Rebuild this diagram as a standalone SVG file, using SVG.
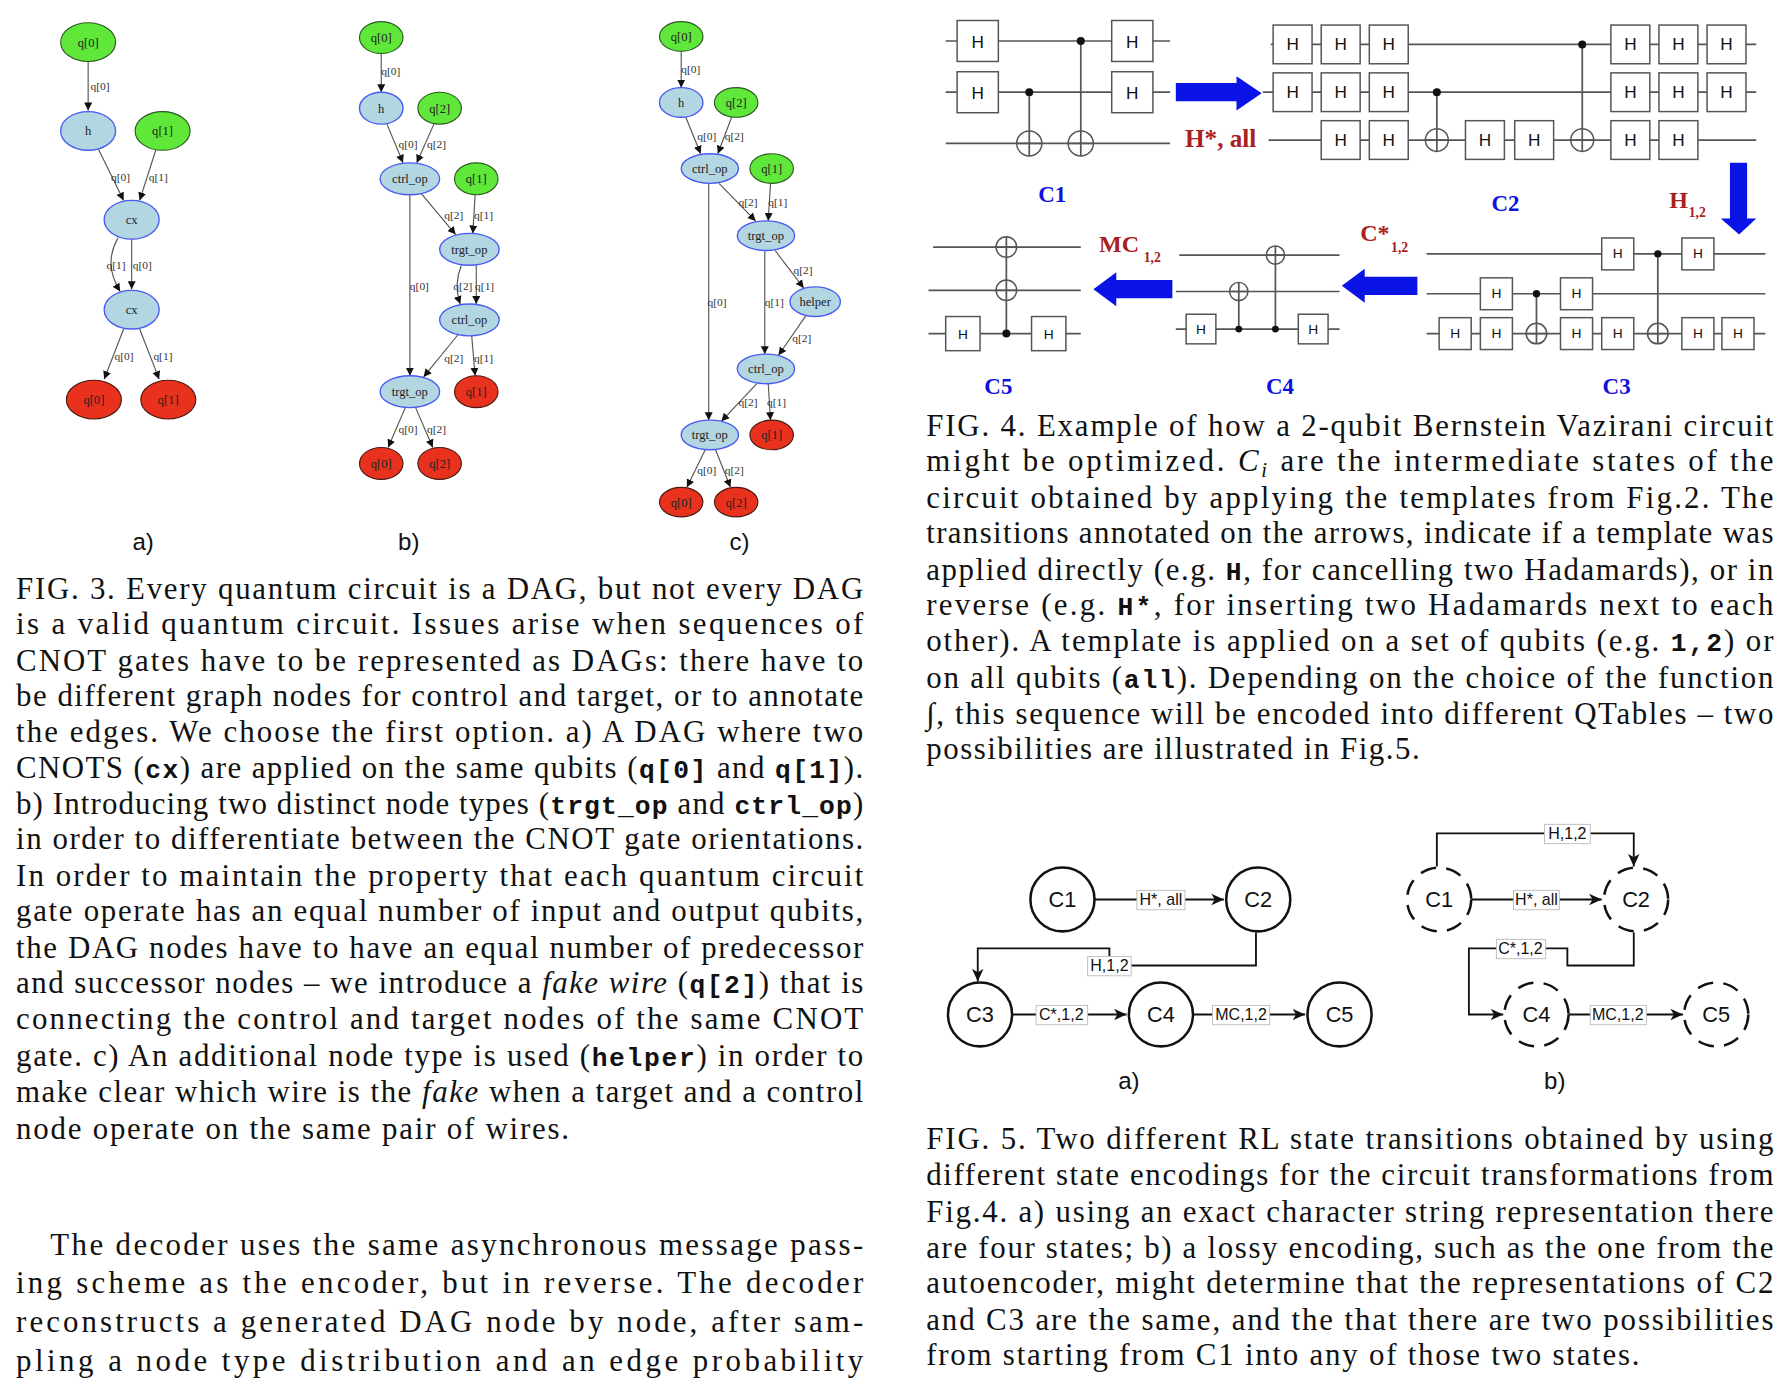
<svg xmlns="http://www.w3.org/2000/svg" width="1786" height="1380" viewBox="0 0 1786 1380">
<defs>
<style>
.g{fill:#5fe83a;stroke:#2a5a20;stroke-width:1}
.b{fill:#b3d6e3;stroke:#4a5cf0;stroke-width:1.2}
.r{fill:#e8321e;stroke:#4a1a10;stroke-width:1}
.nl{font-family:"Liberation Serif",serif;font-size:11px;text-anchor:middle;fill:#222}
.el{font-family:"Liberation Serif",serif;font-size:10px;fill:#333}
.e{stroke:#555;stroke-width:1;fill:none;marker-end:url(#ah)}
.cap{font-family:"Liberation Serif",serif;font-size:27px;fill:#111}
.mono{font-family:"Liberation Mono",monospace;font-weight:bold;font-size:23px}
.w{stroke:#555;stroke-width:1.5;fill:none}
.hb{fill:#fff;stroke:#555;stroke-width:1.3}
.ht{font-family:"Liberation Sans",sans-serif;font-size:15px;text-anchor:middle;fill:#111}
.ht2{font-family:"Liberation Sans",sans-serif;font-size:12px;text-anchor:middle;fill:#111}
.tg{fill:none;stroke:#555;stroke-width:1.3}
.cl{font-family:"Liberation Serif",serif;font-weight:bold;font-size:20px;fill:#1010e0;text-anchor:middle}
.rl{font-family:"Liberation Serif",serif;font-weight:bold;fill:#a82020}
.ar{fill:#0a14e6}
.st{fill:#fff;stroke:#111;stroke-width:2.2}
.sd{fill:#fff;stroke:#111;stroke-width:2.2;stroke-dasharray:14 9}
.sl{font-family:"Liberation Sans",sans-serif;font-size:19px;text-anchor:middle;fill:#111}
.lb{fill:#fff;stroke:#bbb;stroke-width:0.8}
.lt{font-family:"Liberation Sans",sans-serif;font-size:14px;text-anchor:middle;fill:#111}
.sa{stroke:#111;stroke-width:1.6;fill:none;marker-end:url(#ah2)}
.sub{font-family:"Liberation Sans",sans-serif;font-size:21px;text-anchor:middle;fill:#111}
</style>
<marker id="ah" markerWidth="8" markerHeight="8" refX="7" refY="4" orient="auto" markerUnits="userSpaceOnUse"><path d="M0,0.5 L7,4 L0,7.5z" fill="#111"/></marker>
<marker id="ah2" markerWidth="12" markerHeight="12" refX="11" refY="6" orient="auto" markerUnits="userSpaceOnUse"><path d="M0,1 L11,6 L0,11 L3,6z" fill="#111"/></marker>
</defs>
<g transform="scale(1.1449 1.1386)">
<g id="connectors">
<line class="e" x1="77" y1="54" x2="77" y2="97"/>
<line class="e" x1="86" y1="131" x2="108" y2="176"/>
<line class="e" x1="136" y1="132" x2="122" y2="176"/>
<path class="e" d="M103,209 Q90,232 105,256"/>
<line class="e" x1="115" y1="210" x2="115" y2="254"/>
<line class="e" x1="108" y1="289" x2="91" y2="333"/>
<line class="e" x1="122" y1="289" x2="139" y2="333"/>
<line class="e" x1="333" y1="47" x2="333" y2="81"/>
<line class="e" x1="338" y1="109" x2="352" y2="143"/>
<line class="e" x1="379" y1="109" x2="364" y2="143"/>
<line class="e" x1="368" y1="170" x2="398" y2="206"/>
<line class="e" x1="415" y1="171" x2="413" y2="205"/>
<line class="e" x1="358" y1="171" x2="358" y2="330"/>
<path class="e" d="M403,233 Q396,250 402,267"/>
<line class="e" x1="416" y1="233" x2="416" y2="267"/>
<line class="e" x1="400" y1="294" x2="370" y2="331"/>
<line class="e" x1="412" y1="295" x2="415" y2="330"/>
<line class="e" x1="354" y1="358" x2="339" y2="393"/>
<line class="e" x1="363" y1="358" x2="378" y2="393"/>
<line class="e" x1="595" y1="45" x2="595" y2="77"/>
<line class="e" x1="599" y1="103" x2="612" y2="135"/>
<line class="e" x1="639" y1="103" x2="627" y2="135"/>
<line class="e" x1="628" y1="161" x2="660" y2="194"/>
<line class="e" x1="673" y1="161" x2="671" y2="194"/>
<line class="e" x1="619" y1="161" x2="619" y2="369"/>
<line class="e" x1="677" y1="220" x2="702" y2="253"/>
<line class="e" x1="668" y1="220" x2="668" y2="311"/>
<line class="e" x1="704" y1="277" x2="680" y2="312"/>
<line class="e" x1="661" y1="337" x2="630" y2="370"/>
<line class="e" x1="671" y1="337" x2="673" y2="369"/>
<line class="e" x1="616" y1="395" x2="600" y2="428"/>
<line class="e" x1="625" y1="395" x2="638" y2="428"/>
<line class="sa" x1="954" y1="790" x2="1069" y2="790"/>
<polyline class="sa" points="1097,819 1097,848 969,848 969,833 854,833 854,862"/>
<line class="sa" x1="882" y1="891" x2="984" y2="891"/>
<line class="sa" x1="1040" y1="891" x2="1140" y2="891"/>
<polyline class="sa" points="1255,761 1255,732 1427,732 1427,761"/>
<line class="sa" x1="1282" y1="790" x2="1399" y2="790"/>
<polyline class="sa" points="1427,819 1427,848 1369,848 1369,833 1283,833 1283,891 1313,891"/>
<line class="sa" x1="1369" y1="891" x2="1470" y2="891"/>
</g>
<g id="edge-labels">
<text class="el" x="79" y="79">q[0]</text>
<text class="el" x="97" y="159">q[0]</text><text class="el" x="130" y="159">q[1]</text>
<text class="el" x="93" y="236">q[1]</text><text class="el" x="116" y="236">q[0]</text>
<text class="el" x="100" y="316">q[0]</text><text class="el" x="134" y="316">q[1]</text>
<text class="el" x="333" y="66">q[0]</text>
<text class="el" x="348" y="130">q[0]</text><text class="el" x="373" y="130">q[2]</text>
<text class="el" x="388" y="192">q[2]</text><text class="el" x="414" y="192">q[1]</text>
<text class="el" x="358" y="255">q[0]</text>
<text class="el" x="396" y="255">q[2]</text><text class="el" x="415" y="255">q[1]</text>
<text class="el" x="388" y="318">q[2]</text><text class="el" x="414" y="318">q[1]</text>
<text class="el" x="348" y="380">q[0]</text><text class="el" x="373" y="380">q[2]</text>
<text class="el" x="595" y="64">q[0]</text>
<text class="el" x="609" y="123">q[0]</text><text class="el" x="633" y="123">q[2]</text>
<text class="el" x="645" y="181">q[2]</text><text class="el" x="671" y="181">q[1]</text>
<text class="el" x="693" y="241">q[2]</text>
<text class="el" x="668" y="269">q[1]</text>
<text class="el" x="618" y="269">q[0]</text>
<text class="el" x="692" y="300">q[2]</text>
<text class="el" x="645" y="357">q[2]</text><text class="el" x="670" y="357">q[1]</text>
<text class="el" x="609" y="416">q[0]</text><text class="el" x="633" y="416">q[2]</text>
</g>
<g id="a-q0"><ellipse class="g" cx="77" cy="37" rx="24" ry="17"/><text class="nl" x="77" y="41">q[0]</text></g>
<g id="a-h"><ellipse class="b" cx="77" cy="115" rx="24" ry="17"/><text class="nl" x="77" y="119">h</text></g>
<g id="a-q1"><ellipse class="g" cx="142" cy="115" rx="24" ry="17"/><text class="nl" x="142" y="119">q[1]</text></g>
<g id="a-cx1"><ellipse class="b" cx="115" cy="193" rx="24" ry="17"/><text class="nl" x="115" y="197">cx</text></g>
<g id="a-cx2"><ellipse class="b" cx="115" cy="272" rx="24" ry="17"/><text class="nl" x="115" y="276">cx</text></g>
<g id="a-o0"><ellipse class="r" cx="82" cy="351" rx="24" ry="17"/><text class="nl" x="82" y="355">q[0]</text></g>
<g id="a-o1"><ellipse class="r" cx="147" cy="351" rx="24" ry="17"/><text class="nl" x="147" y="355">q[1]</text></g>
<g id="b-q0"><ellipse class="g" cx="333" cy="33" rx="19" ry="14"/><text class="nl" x="333" y="37">q[0]</text></g>
<g id="b-h"><ellipse class="b" cx="333" cy="95" rx="19" ry="14"/><text class="nl" x="333" y="99">h</text></g>
<g id="b-q2"><ellipse class="g" cx="384" cy="95" rx="19" ry="14"/><text class="nl" x="384" y="99">q[2]</text></g>
<g id="b-c1"><ellipse class="b" cx="358" cy="157" rx="26" ry="14"/><text class="nl" x="358" y="161">ctrl_op</text></g>
<g id="b-q1"><ellipse class="g" cx="416" cy="157" rx="19" ry="14"/><text class="nl" x="416" y="161">q[1]</text></g>
<g id="b-t1"><ellipse class="b" cx="410" cy="219" rx="26" ry="14"/><text class="nl" x="410" y="223">trgt_op</text></g>
<g id="b-c2"><ellipse class="b" cx="410" cy="281" rx="26" ry="14"/><text class="nl" x="410" y="285">ctrl_op</text></g>
<g id="b-t2"><ellipse class="b" cx="358" cy="344" rx="26" ry="14"/><text class="nl" x="358" y="348">trgt_op</text></g>
<g id="b-o1"><ellipse class="r" cx="416" cy="344" rx="19" ry="14"/><text class="nl" x="416" y="348">q[1]</text></g>
<g id="b-o0"><ellipse class="r" cx="333" cy="407" rx="19" ry="14"/><text class="nl" x="333" y="411">q[0]</text></g>
<g id="b-o2"><ellipse class="r" cx="384" cy="407" rx="19" ry="14"/><text class="nl" x="384" y="411">q[2]</text></g>
<g id="c-q0"><ellipse class="g" cx="595" cy="32" rx="19" ry="13"/><text class="nl" x="595" y="36">q[0]</text></g>
<g id="c-h"><ellipse class="b" cx="595" cy="90" rx="19" ry="13"/><text class="nl" x="595" y="94">h</text></g>
<g id="c-q2"><ellipse class="g" cx="643" cy="90" rx="19" ry="13"/><text class="nl" x="643" y="94">q[2]</text></g>
<g id="c-c1"><ellipse class="b" cx="620" cy="148" rx="25" ry="13"/><text class="nl" x="620" y="152">ctrl_op</text></g>
<g id="c-q1"><ellipse class="g" cx="674" cy="148" rx="19" ry="13"/><text class="nl" x="674" y="152">q[1]</text></g>
<g id="c-t1"><ellipse class="b" cx="669" cy="207" rx="25" ry="13"/><text class="nl" x="669" y="211">trgt_op</text></g>
<g id="c-helper"><ellipse class="b" cx="712" cy="265" rx="22" ry="13"/><text class="nl" x="712" y="269">helper</text></g>
<g id="c-c2"><ellipse class="b" cx="669" cy="324" rx="25" ry="13"/><text class="nl" x="669" y="328">ctrl_op</text></g>
<g id="c-t2"><ellipse class="b" cx="620" cy="382" rx="25" ry="13"/><text class="nl" x="620" y="386">trgt_op</text></g>
<g id="c-o1"><ellipse class="r" cx="674" cy="382" rx="19" ry="13"/><text class="nl" x="674" y="386">q[1]</text></g>
<g id="c-o0"><ellipse class="r" cx="595" cy="441" rx="19" ry="13"/><text class="nl" x="595" y="445">q[0]</text></g>
<g id="c-o2"><ellipse class="r" cx="643" cy="441" rx="19" ry="13"/><text class="nl" x="643" y="445">q[2]</text></g>
<text class="sub" x="125" y="483">a)</text><text class="sub" x="357" y="483">b)</text><text class="sub" x="646" y="483">c)</text>

<g class="cap">
<text x="14" y="526" textLength="740" lengthAdjust="spacing">FIG. 3. Every quantum circuit is a DAG, but not every DAG</text>
<text x="14" y="557" textLength="740" lengthAdjust="spacing">is a valid quantum circuit.  Issues arise when sequences of</text>
<text x="14" y="589" textLength="740" lengthAdjust="spacing">CNOT gates have to be represented as DAGs: there have to</text>
<text x="14" y="620" textLength="740" lengthAdjust="spacing">be different graph nodes for control and target, or to annotate</text>
<text x="14" y="652" textLength="740" lengthAdjust="spacing">the edges.  We choose the first option.  a) A DAG where two</text>
<text x="14" y="683" textLength="740" lengthAdjust="spacing">CNOTS (<tspan class="mono">cx</tspan>) are applied on the same qubits (<tspan class="mono">q[0]</tspan> and <tspan class="mono">q[1]</tspan>).</text>
<text x="14" y="715" textLength="740" lengthAdjust="spacing">b) Introducing two distinct node types (<tspan class="mono">trgt_op</tspan> and <tspan class="mono">ctrl_op</tspan>)</text>
<text x="14" y="746" textLength="740" lengthAdjust="spacing">in order to differentiate between the CNOT gate orientations.</text>
<text x="14" y="778" textLength="740" lengthAdjust="spacing">In order to maintain the property that each quantum circuit</text>
<text x="14" y="809" textLength="740" lengthAdjust="spacing">gate operate has an equal number of input and output qubits,</text>
<text x="14" y="841" textLength="740" lengthAdjust="spacing">the DAG nodes have to have an equal number of predecessor</text>
<text x="14" y="872" textLength="740" lengthAdjust="spacing">and successor nodes – we introduce a <tspan font-style="italic">fake wire</tspan> (<tspan class="mono">q[2]</tspan>) that is</text>
<text x="14" y="904" textLength="740" lengthAdjust="spacing">connecting the control and target nodes of the same CNOT</text>
<text x="14" y="936" textLength="740" lengthAdjust="spacing">gate. c) An additional node type is used (<tspan class="mono">helper</tspan>) in order to</text>
<text x="14" y="968" textLength="740" lengthAdjust="spacing">make clear which wire is the <tspan font-style="italic">fake</tspan> when a target and a control</text>
<text x="14" y="1000" textLength="483" lengthAdjust="spacing">node operate on the same pair of wires.</text>
</g>
<g class="cap" font-size="29">
<text x="44" y="1102" textLength="710" lengthAdjust="spacing">The decoder uses the same asynchronous message pass-</text>
<text x="14" y="1136" textLength="740" lengthAdjust="spacing">ing scheme as the encoder, but in reverse.  The decoder</text>
<text x="14" y="1170" textLength="740" lengthAdjust="spacing">reconstructs a generated DAG node by node, after sam-</text>
<text x="14" y="1204" textLength="740" lengthAdjust="spacing">pling a node type distribution and an edge probability</text>
</g>

<g id="C1">
<line class="w" x1="826" y1="36" x2="1022" y2="36"/><line class="w" x1="826" y1="81" x2="1022" y2="81"/><line class="w" x1="826" y1="126" x2="1022" y2="126"/>
<line class="w" x1="899" y1="81" x2="899" y2="137" stroke-width="1"/><line class="w" x1="944" y1="36" x2="944" y2="137" stroke-width="1"/>
<circle cx="899" cy="81" r="3.5" fill="#111"/><circle cx="944" cy="36" r="3.5" fill="#111"/>
<circle class="tg" cx="899" cy="126" r="11"/><line class="tg" x1="888" y1="126" x2="910" y2="126"/>
<circle class="tg" cx="944" cy="126" r="11"/><line class="tg" x1="933" y1="126" x2="955" y2="126"/>
<rect class="hb" x="836" y="18" width="36" height="36"/><text class="ht" x="854" y="42">H</text>
<rect class="hb" x="836" y="63" width="36" height="36"/><text class="ht" x="854" y="87">H</text>
<rect class="hb" x="971" y="18" width="36" height="36"/><text class="ht" x="989" y="42">H</text>
<rect class="hb" x="971" y="63" width="36" height="36"/><text class="ht" x="989" y="87">H</text>
<text class="cl" x="919" y="177">C1</text>
</g>
<g id="C2">
<line class="w" x1="1110" y1="39" x2="1534" y2="39"/><line class="w" x1="1103" y1="81" x2="1534" y2="81"/><line class="w" x1="1108" y1="123" x2="1534" y2="123"/>
<line class="w" x1="1255" y1="81" x2="1255" y2="133" stroke-width="1"/><line class="w" x1="1382" y1="39" x2="1382" y2="133" stroke-width="1"/>
<circle cx="1255" cy="81" r="3.5" fill="#111"/><circle cx="1382" cy="39" r="3.5" fill="#111"/>
<circle class="tg" cx="1255" cy="123" r="10"/><line class="tg" x1="1245" y1="123" x2="1265" y2="123"/>
<circle class="tg" cx="1382" cy="123" r="10"/><line class="tg" x1="1372" y1="123" x2="1392" y2="123"/>
<g class="ht">
<rect class="hb" x="1112" y="22" width="34" height="34"/><text x="1129" y="44">H</text>
<rect class="hb" x="1154" y="22" width="34" height="34"/><text x="1171" y="44">H</text>
<rect class="hb" x="1196" y="22" width="34" height="34"/><text x="1213" y="44">H</text>
<rect class="hb" x="1407" y="22" width="34" height="34"/><text x="1424" y="44">H</text>
<rect class="hb" x="1449" y="22" width="34" height="34"/><text x="1466" y="44">H</text>
<rect class="hb" x="1491" y="22" width="34" height="34"/><text x="1508" y="44">H</text>
<rect class="hb" x="1112" y="64" width="34" height="34"/><text x="1129" y="86">H</text>
<rect class="hb" x="1154" y="64" width="34" height="34"/><text x="1171" y="86">H</text>
<rect class="hb" x="1196" y="64" width="34" height="34"/><text x="1213" y="86">H</text>
<rect class="hb" x="1407" y="64" width="34" height="34"/><text x="1424" y="86">H</text>
<rect class="hb" x="1449" y="64" width="34" height="34"/><text x="1466" y="86">H</text>
<rect class="hb" x="1491" y="64" width="34" height="34"/><text x="1508" y="86">H</text>
<rect class="hb" x="1154" y="106" width="34" height="34"/><text x="1171" y="128">H</text>
<rect class="hb" x="1196" y="106" width="34" height="34"/><text x="1213" y="128">H</text>
<rect class="hb" x="1280" y="106" width="34" height="34"/><text x="1297" y="128">H</text>
<rect class="hb" x="1323" y="106" width="34" height="34"/><text x="1340" y="128">H</text>
<rect class="hb" x="1407" y="106" width="34" height="34"/><text x="1424" y="128">H</text>
<rect class="hb" x="1449" y="106" width="34" height="34"/><text x="1466" y="128">H</text>
</g>
<text class="cl" x="1315" y="185">C2</text>
</g>
<g id="C3">
<line class="w" x1="1246" y1="223" x2="1542" y2="223"/><line class="w" x1="1246" y1="258" x2="1542" y2="258"/><line class="w" x1="1246" y1="293" x2="1542" y2="293"/>
<line class="w" x1="1342" y1="258" x2="1342" y2="302" stroke-width="1"/><line class="w" x1="1448" y1="223" x2="1448" y2="302" stroke-width="1"/>
<circle cx="1342" cy="258" r="3.2" fill="#111"/><circle cx="1448" cy="223" r="3.2" fill="#111"/>
<circle class="tg" cx="1342" cy="293" r="9"/><line class="tg" x1="1333" y1="293" x2="1351" y2="293"/>
<circle class="tg" cx="1448" cy="293" r="9"/><line class="tg" x1="1439" y1="293" x2="1457" y2="293"/>
<g class="ht2">
<rect class="hb" x="1399" y="209" width="28" height="28"/><text x="1413" y="227">H</text>
<rect class="hb" x="1469" y="209" width="28" height="28"/><text x="1483" y="227">H</text>
<rect class="hb" x="1293" y="244" width="28" height="28"/><text x="1307" y="262">H</text>
<rect class="hb" x="1363" y="244" width="28" height="28"/><text x="1377" y="262">H</text>
<rect class="hb" x="1257" y="279" width="28" height="28"/><text x="1271" y="297">H</text>
<rect class="hb" x="1293" y="279" width="28" height="28"/><text x="1307" y="297">H</text>
<rect class="hb" x="1363" y="279" width="28" height="28"/><text x="1377" y="297">H</text>
<rect class="hb" x="1399" y="279" width="28" height="28"/><text x="1413" y="297">H</text>
<rect class="hb" x="1469" y="279" width="28" height="28"/><text x="1483" y="297">H</text>
<rect class="hb" x="1504" y="279" width="28" height="28"/><text x="1518" y="297">H</text>
</g>
<text class="cl" x="1412" y="346">C3</text>
</g>
<g id="C4">
<line class="w" x1="1030" y1="224" x2="1170" y2="224"/><line class="w" x1="1027" y1="256" x2="1170" y2="256"/><line class="w" x1="1027" y1="289" x2="1170" y2="289"/>
<line class="w" x1="1082" y1="248" x2="1082" y2="289" stroke-width="1"/><line class="w" x1="1114" y1="216" x2="1114" y2="289" stroke-width="1"/>
<circle cx="1082" cy="289" r="3" fill="#111"/><circle cx="1114" cy="289" r="3" fill="#111"/>
<circle class="tg" cx="1082" cy="256" r="8"/><line class="tg" x1="1074" y1="256" x2="1090" y2="256"/>
<circle class="tg" cx="1114" cy="224" r="8"/><line class="tg" x1="1106" y1="224" x2="1122" y2="224"/>
<g class="ht2" font-size="11">
<rect class="hb" x="1036" y="276" width="26" height="26"/><text x="1049" y="293">H</text>
<rect class="hb" x="1134" y="276" width="26" height="26"/><text x="1147" y="293">H</text>
</g>
<text class="cl" x="1118" y="346">C4</text>
</g>
<g id="C5">
<line class="w" x1="815" y1="217" x2="944" y2="217"/><line class="w" x1="811" y1="255" x2="944" y2="255"/><line class="w" x1="811" y1="293" x2="944" y2="293"/>
<line class="w" x1="879" y1="208" x2="879" y2="293" stroke-width="1"/>
<circle cx="879" cy="293" r="3.5" fill="#111"/>
<circle class="tg" cx="879" cy="217" r="9"/><line class="tg" x1="870" y1="217" x2="888" y2="217"/>
<circle class="tg" cx="879" cy="255" r="9"/><line class="tg" x1="870" y1="255" x2="888" y2="255"/>
<g class="ht2" font-size="13">
<rect class="hb" x="826" y="278" width="30" height="30"/><text x="841" y="298">H</text>
<rect class="hb" x="901" y="278" width="30" height="30"/><text x="916" y="298">H</text>
</g>
<text class="cl" x="872" y="346">C5</text>
</g>
<g id="fig4-arrows">
<polygon class="ar" points="1027,73 1080,73 1080,67 1102,82 1080,97 1080,89 1027,89"/>
<polygon class="ar" points="1511,143 1526,143 1526,192 1534,192 1519,206 1503,192 1511,192"/>
<polygon class="ar" points="1238,243 1192,243 1192,236 1172,251 1192,266 1192,259 1238,259"/>
<polygon class="ar" points="1024,246 975,246 975,239 955,254 975,269 975,262 1024,262"/>
<text class="rl" x="1035" y="129" font-size="22">H*, all</text>
<text class="rl" x="1458" y="183" font-size="21">H</text><text class="rl" x="1475" y="191" font-size="12">1,2</text>
<text class="rl" x="1188" y="212" font-size="21">C*</text><text class="rl" x="1215" y="221" font-size="12">1,2</text>
<text class="rl" x="960" y="221" font-size="21">MC</text><text class="rl" x="999" y="230" font-size="12">1,2</text>
</g>
<g class="cap">
<text x="809" y="383" textLength="740" lengthAdjust="spacing">FIG. 4.  Example of how a 2-qubit Bernstein Vazirani circuit</text>
<text x="809" y="414" textLength="740" lengthAdjust="spacing">might be optimized.  <tspan font-style="italic">C</tspan><tspan font-style="italic" font-size="18" dy="5">i</tspan><tspan dy="-5"> are the intermediate states of the</tspan></text>
<text x="809" y="446" textLength="740" lengthAdjust="spacing">circuit obtained by applying the templates from Fig.2.  The</text>
<text x="809" y="477" textLength="740" lengthAdjust="spacing">transitions annotated on the arrows, indicate if a template was</text>
<text x="809" y="509" textLength="740" lengthAdjust="spacing">applied directly (e.g. <tspan class="mono">H</tspan>, for cancelling two Hadamards), or in</text>
<text x="809" y="540" textLength="740" lengthAdjust="spacing">reverse (e.g.  <tspan class="mono">H*</tspan>, for inserting two Hadamards next to each</text>
<text x="809" y="572" textLength="740" lengthAdjust="spacing">other).  A template is applied on a set of qubits (e.g. <tspan class="mono">1,2</tspan>) or</text>
<text x="809" y="604" textLength="740" lengthAdjust="spacing">on all qubits (<tspan class="mono">all</tspan>).  Depending on the choice of the function</text>
<text x="809" y="636" textLength="740" lengthAdjust="spacing">∫, this sequence will be encoded into different QTables – two</text>
<text x="809" y="667" textLength="431" lengthAdjust="spacing">possibilities are illustrated in Fig.5.</text>
</g>

<g id="s-a-C1"><circle class="st" cx="928" cy="790" r="28"/><text class="sl" x="928" y="797">C1</text></g>
<g id="s-a-C2"><circle class="st" cx="1099" cy="790" r="28"/><text class="sl" x="1099" y="797">C2</text></g>
<g id="s-a-C3"><circle class="st" cx="856" cy="891" r="28"/><text class="sl" x="856" y="898">C3</text></g>
<g id="s-a-C4"><circle class="st" cx="1014" cy="891" r="28"/><text class="sl" x="1014" y="898">C4</text></g>
<g id="s-a-C5"><circle class="st" cx="1170" cy="891" r="28"/><text class="sl" x="1170" y="898">C5</text></g>
<g id="s-b-C1"><circle class="sd" cx="1257" cy="790" r="28"/><text class="sl" x="1257" y="797">C1</text></g>
<g id="s-b-C2"><circle class="sd" cx="1429" cy="790" r="28"/><text class="sl" x="1429" y="797">C2</text></g>
<g id="s-b-C4"><circle class="sd" cx="1342" cy="891" r="28"/><text class="sl" x="1342" y="898">C4</text></g>
<g id="s-b-C5"><circle class="sd" cx="1499" cy="891" r="28"/><text class="sl" x="1499" y="898">C5</text></g>
<g id="fig5-labels">
<rect class="lb" x="993" y="782" width="42" height="17"/><text class="lt" x="1014" y="795">H*, all</text>
<rect class="lb" x="950" y="840" width="38" height="17"/><text class="lt" x="969" y="853">H,1,2</text>
<rect class="lb" x="905" y="883" width="45" height="17"/><text class="lt" x="927" y="896">C*,1,2</text>
<rect class="lb" x="1059" y="883" width="50" height="17"/><text class="lt" x="1084" y="896">MC,1,2</text>
<rect class="lb" x="1349" y="724" width="40" height="17"/><text class="lt" x="1369" y="737">H,1,2</text>
<rect class="lb" x="1322" y="782" width="40" height="17"/><text class="lt" x="1342" y="795">H*, all</text>
<rect class="lb" x="1307" y="825" width="43" height="17"/><text class="lt" x="1328" y="838">C*,1,2</text>
<rect class="lb" x="1389" y="883" width="49" height="17"/><text class="lt" x="1413" y="896">MC,1,2</text>
<text class="sub" x="986" y="956">a)</text><text class="sub" x="1358" y="956">b)</text>
</g>
<g class="cap">
<text x="809" y="1009" textLength="740" lengthAdjust="spacing">FIG. 5.  Two different RL state transitions obtained by using</text>
<text x="809" y="1041" textLength="740" lengthAdjust="spacing">different state encodings for the circuit transformations from</text>
<text x="809" y="1073" textLength="740" lengthAdjust="spacing">Fig.4. a) using an exact character string representation there</text>
<text x="809" y="1105" textLength="740" lengthAdjust="spacing">are four states; b) a lossy encoding, such as the one from the</text>
<text x="809" y="1136" textLength="740" lengthAdjust="spacing">autoencoder, might determine that the representations of C2</text>
<text x="809" y="1168" textLength="740" lengthAdjust="spacing">and C3 are the same, and the that there are two possibilities</text>
<text x="809" y="1199" textLength="623" lengthAdjust="spacing">from starting from C1 into any of those two states.</text>
</g>
</g>
</svg>
